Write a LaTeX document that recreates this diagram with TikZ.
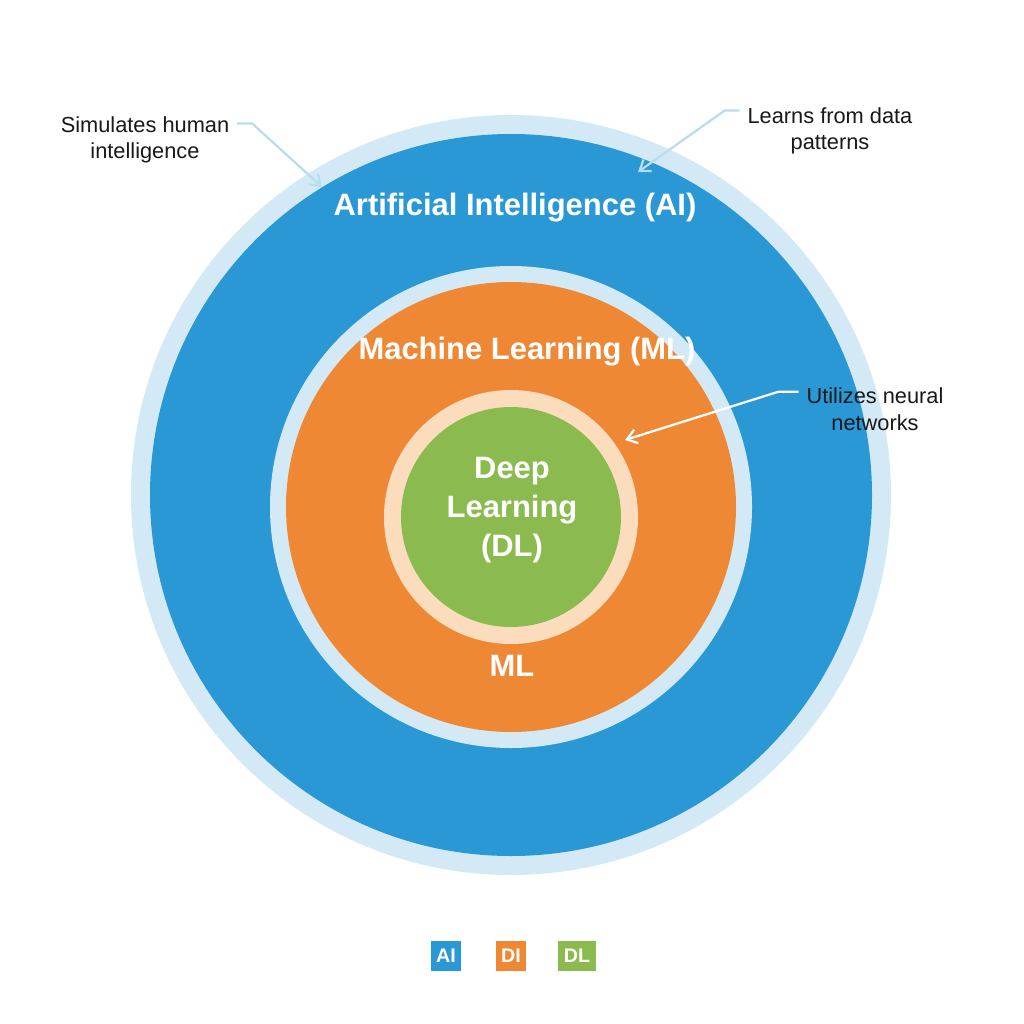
\documentclass[tikz,border=0pt]{standalone}
\usepackage{fontspec}
\setmainfont{Liberation Sans}
\usetikzlibrary{arrows.meta}
\definecolor{aiblue}{HTML}{2A98D5}
\definecolor{ailight}{HTML}{D3EAF6}
\definecolor{mlorange}{HTML}{EF8834}
\definecolor{dllight}{HTML}{FBDDBE}
\definecolor{dlgreen}{HTML}{8BBB4E}
\definecolor{leadc}{HTML}{B9DCF0}
\begin{document}
\begin{tikzpicture}[x=0.025cm,y=-0.025cm,
 title/.style={text=white,font=\fontsize{22}{26}\selectfont\bfseries,align=center},
 note/.style={text=black!90,font=\fontsize{15.5}{19}\selectfont,align=center},
 lead/.style={line width=1.6pt,-{Straight Barb[length=7pt,width=10pt]}},
 leg/.style={text=white,font=\fontsize{14}{16}\selectfont\bfseries,inner sep=0pt,minimum width=0.75cm,minimum height=0.75cm}]
\useasboundingbox (0,0) rectangle (1024,1024);
\fill[white] (0,0) rectangle (1024,1024);
\fill[ailight] (511,495) circle[radius=380];
\fill[aiblue] (511,495) circle[radius=361];
\fill[ailight] (511,507) circle[radius=241];
\fill[mlorange] (511,507) circle[radius=225];
\fill[dllight] (511,517) circle[radius=127];
\fill[dlgreen] (511,517) circle[radius=110];
\node[title] (ai) at (515,208) {Artificial Intelligence (AI)};
\node[title] (ml) at (527,352) {Machine Learning (ML)};
\node[title,font=\fontsize{22}{28}\selectfont\bfseries] (dl) at (512,510) {Deep\\Learning\\(DL)};
\node[title] (ml2) at (512,666) {ML};
\node[note] (n1) at (145,140) {Simulates human\\intelligence};
\node[note] (n2) at (830,131) {Learns from data\\patterns};
\node[note] (n3) at (875,409) {Utilizes neural\\networks};
\coordinate (a1) at (322,187);
\coordinate (a2) at (638,172);
\coordinate (a3) at (625,440);
\draw[lead,leadc] (n1.north east)++(3,12) -- ++(15,0) -- (a1);
\draw[lead,leadc] (n2.north west)++(-3,8) -- ++(-15,0) -- (a2);
\draw[lead,white] (n3.north west)++(-3,9) -- ++(-20,0) -- (a3);
\node[leg,fill=aiblue] (l1) at (446,956) {AI};
\node[leg,fill=mlorange] (l2) at (511,956) {DI};
\node[leg,fill=dlgreen,minimum width=0.95cm] (l3) at (577,956) {DL};
\end{tikzpicture}
\end{document}
